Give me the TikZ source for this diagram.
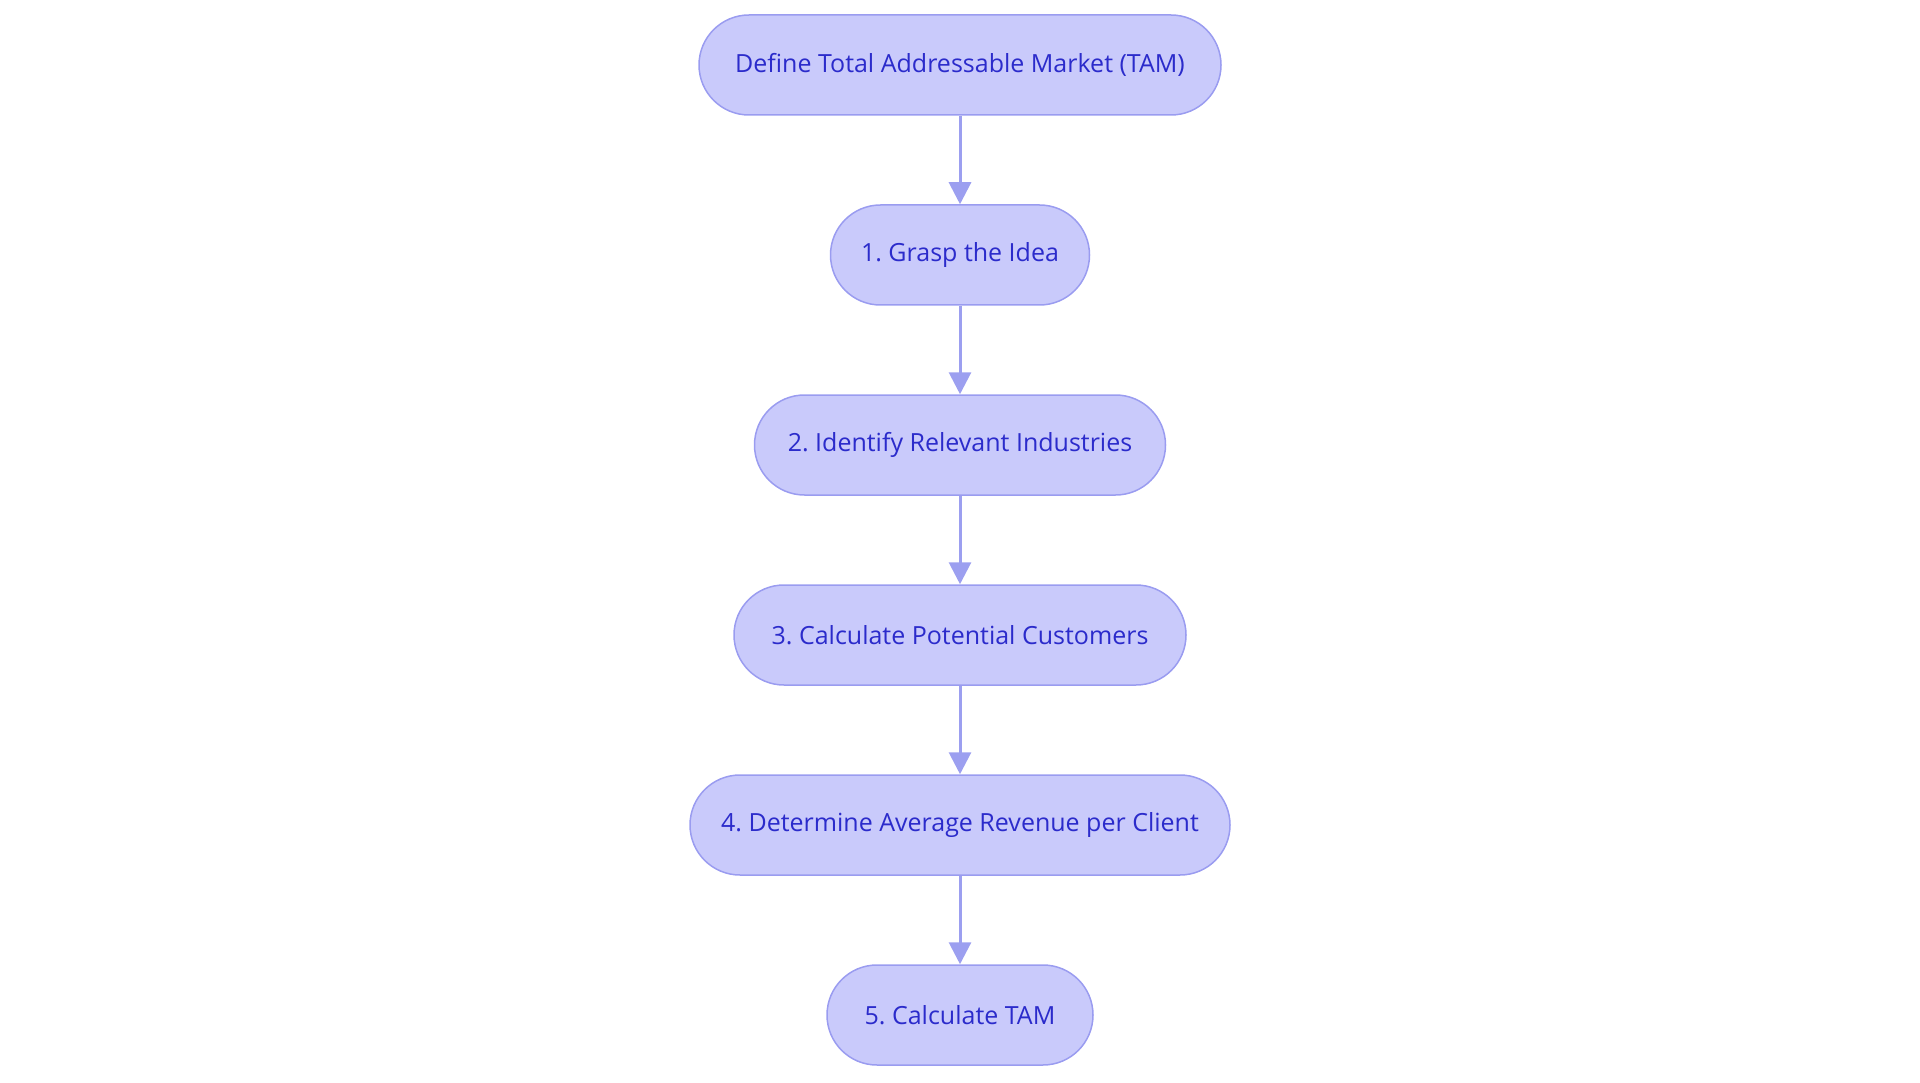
\documentclass[tikz,border=0pt]{standalone}
\usepackage{fontspec}
\setmainfont{Open Sans}
\usetikzlibrary{arrows.meta}
\definecolor{nodefill}{HTML}{C9CAFB}
\definecolor{nodeline}{HTML}{9A9CF0}
\definecolor{nodetext}{HTML}{2B2BCB}
\definecolor{arrowcol}{HTML}{9C9FF0}
\tikzset{
  stadium/.style={draw=nodeline, fill=nodefill, line width=1.5pt, rounded corners=50pt,
    minimum height=100pt, inner sep=0pt, text=nodetext,
    font=\fontsize{25}{30}\selectfont},
  flow/.style={draw=arrowcol, line width=3pt, -{Triangle[length=22pt,width=22pt]}}
}
\frenchspacing
\begin{document}
\begin{tikzpicture}[x=1pt,y=-1pt]
\useasboundingbox (0,0) rectangle (1920,1083);
\node[stadium, minimum width=522pt] (t) at (960,65) {Define Total Addressable Market (TAM)};
\node[stadium, minimum width=259pt] (a) at (960,255) {1. Grasp the Idea};
\node[stadium, minimum width=411pt] (b) at (960,445) {2. Identify Relevant Industries};
\node[stadium, minimum width=452pt] (c) at (960,635) {3. Calculate Potential Customers};
\node[stadium, minimum width=540pt] (d) at (960,825) {4. Determine Average Revenue per Client};
\node[stadium, minimum width=266pt] (e) at (960,1015) {5. Calculate TAM};
\draw[flow] (t) -- (a);
\draw[flow] (a) -- (b);
\draw[flow] (b) -- (c);
\draw[flow] (c) -- (d);
\draw[flow] (d) -- (e);
\end{tikzpicture}
\end{document}
